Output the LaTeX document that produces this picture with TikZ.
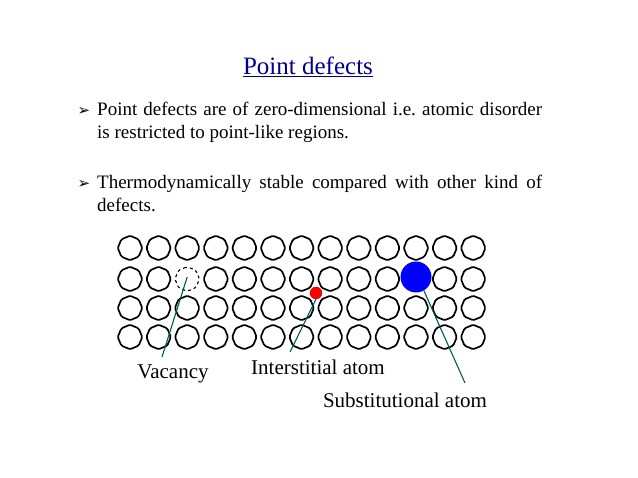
\documentclass[tikz,border=0pt]{standalone}
\usepackage{fontspec}
\setmainfont{Liberation Serif}
\usetikzlibrary{shapes.geometric}
\newfontfamily\symf{DejaVu Sans}
\begin{document}
\begin{tikzpicture}[x=1pt,y=-1pt,
  atom/.style={regular polygon,regular polygon sides=8,shape border rotate=22.5,draw,line width=1.7pt,minimum size=24.5pt,inner sep=0pt,rounded corners=1.5pt},
  vac/.style={atom,dashed,line width=1.1pt},
  lead/.style={draw=teal!70!black,line width=1.1pt},
  lbl/.style={font=\fontsize{21}{24}\selectfont,inner sep=0pt},
  para/.style={anchor=north west,inner sep=0pt,text width=445pt,font=\fontsize{19}{23}\selectfont,align=justify}]
\useasboundingbox (0,0) rectangle (638,478);
\node[font=\fontsize{25}{28}\selectfont,text=blue!55!black,inner sep=0pt] (title) at (308,67) {\underline{Point defects}};
\node[para] (b1) at (97,102) {Point defects are of zero-dimensional i.e.\ atomic disorder\linebreak is restricted to point-like regions.};
\node[para] (b2) at (97,175) {Thermodynamically stable compared with other kind of\linebreak defects.};
\node[font=\symf\fontsize{15}{15}\selectfont,inner sep=0pt] (ar1) at (84,112) {➢};
\node[font=\symf\fontsize{15}{15}\selectfont,inner sep=0pt] (ar2) at (84,185) {➢};
\foreach \r/\y in {1/248,2/279,3/308,4/337}{
  \foreach \c in {1,...,13}{
    \pgfmathsetmacro\xx{130+(\c-1)*28.6}
    \ifnum\r=2 \ifnum\c=3 \node[vac] (a-\r-\c) at (\xx,\y) {};\else\node[atom] (a-\r-\c) at (\xx,\y) {};\fi
    \else\node[atom] (a-\r-\c) at (\xx,\y) {};\fi
  }}
\node[circle,fill=red,draw=red!70!black,minimum size=12pt,inner sep=0pt] (int) at (316,293) {};
\node[circle,fill=blue,minimum size=31pt,inner sep=0pt] (sub) at (416,277) {};
\node[lbl] (lv) at (173,374) {Vacancy};
\node[lbl] (li) at (318,367) {Interstitial atom};
\node[lbl] (ls) at (405,400) {Substitutional atom};
\coordinate (ev) at (162,357);
\coordinate (ei) at (290,352);
\coordinate (es) at (465,383);
\draw[lead] (a-2-3.center) ++(0,-2) -- (ev);
\draw[lead] (int.south) -- (ei);
\draw[lead] (sub.-60) -- (es);
\end{tikzpicture}
\end{document}
